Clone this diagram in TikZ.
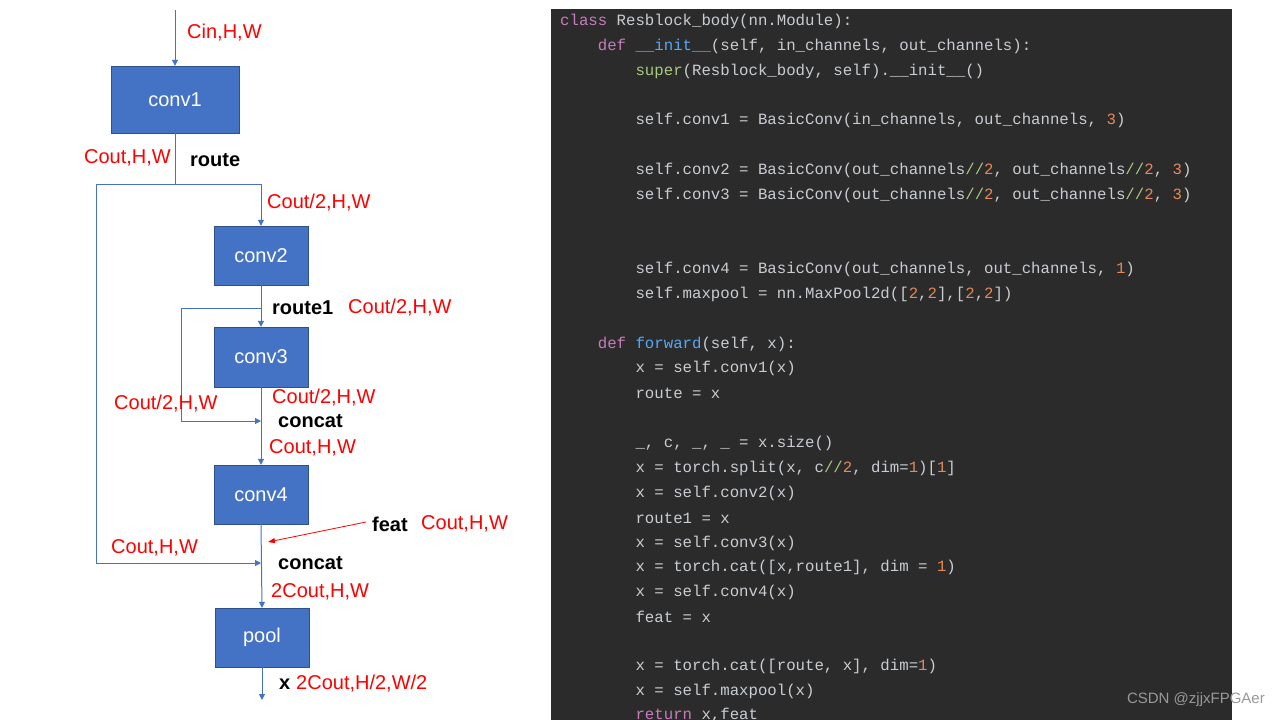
\documentclass[tikz,border=0pt]{standalone}
\usepackage{fontspec}
\setmainfont{Liberation Sans}
\setmonofont{Liberation Mono}
\usetikzlibrary{arrows.meta}
\definecolor{bx}{HTML}{4472C4}
\definecolor{codebg}{HTML}{2B2B2B}
\definecolor{ct}{HTML}{C9CDD2}
\definecolor{kw}{HTML}{C77DBB}
\definecolor{fn}{HTML}{56A8F5}
\definecolor{nm}{HTML}{E5895A}
\definecolor{gr}{HTML}{A9C97F}
\begin{document}
\begin{tikzpicture}[x=1pt,y=-1pt,
  box/.style={draw=bx!70!black,fill=bx,text=white,font=\fontsize{20}{20}\selectfont,inner sep=0pt},
  ln/.style={draw=bx,line width=1pt},
  arr/.style={ln,-{Triangle[length=6pt,width=6pt]}},
  rl/.style={text=red,font=\fontsize{20}{20}\selectfont,inner sep=0pt},
  bl/.style={text=black,font=\bfseries\fontsize{20}{20}\selectfont,inner sep=0pt},
  cl/.style={anchor=west,text=ct,font=\ttfamily\fontsize{15.7}{15.7}\selectfont,inner sep=0pt}]
\useasboundingbox (0,0) rectangle (1280,720);
\fill[white] (0,0) rectangle (1280,720);
% boxes
\node[box,minimum width=128pt,minimum height=67pt] (c1) at (175,99.5) {conv1};
\node[box,minimum width=94pt,minimum height=59pt] (c2) at (261,255.5) {conv2};
\node[box,minimum width=94pt,minimum height=60pt] (c3) at (261,357) {conv3};
\node[box,minimum width=94pt,minimum height=59pt] (c4) at (261,494.5) {conv4};
\node[box,minimum width=94pt,minimum height=59pt] (p) at (262,637.5) {pool};
\coordinate (in) at (175,10);
\coordinate (s1) at (175,184);
\coordinate (s1l) at (96,184);
\coordinate (s1r) at (261,184);
\coordinate (s2) at (261,308);
\coordinate (s2l) at (181,308);
\coordinate (j1) at (261,421);
\coordinate (j1l) at (181,421);
\coordinate (j2) at (261,563);
\coordinate (j2l) at (96,563);
\coordinate (out) at (262,700);
\coordinate (fs) at (366,522);
\coordinate (fe) at (268,542);
\draw[arr] (in) -- (c1.north);
\draw[ln] (c1.south) -- (s1);
\draw[ln] (s1l) -- (s1r);
\draw[arr] (s1r) -- (c2.north);
\draw[arr] (s1l) -- (j2l) -- (j2);
\draw[arr] (c2.south) -- (c3.north);
\draw[arr] (s2) -- (s2l) -- (j1l) -- (j1);
\draw[arr] (c3.south) -- (c4.north);
\draw[arr] (c4.south) -- (p.north);
\draw[arr] (p.south) -- (out);
\draw[red,line width=0.8pt,-{Triangle[length=7pt,width=5pt]}] (fs) -- (fe);
% labels
\node[rl,anchor=west] at (187,33) {Cin,H,W};
\node[rl,anchor=east] at (171,158) {Cout,H,W};
\node[bl,anchor=west] at (190,160) {route};
\node[rl,anchor=west] at (267,203) {Cout/2,H,W};
\node[bl,anchor=west] at (272,308) {route1};
\node[rl,anchor=west] at (348,308) {Cout/2,H,W};
\node[rl,anchor=west] at (114,404) {Cout/2,H,W};
\node[rl,anchor=west] at (272,398) {Cout/2,H,W};
\node[bl,anchor=west] at (278,421) {concat};
\node[rl,anchor=west] at (269,448) {Cout,H,W};
\node[bl,anchor=west] at (372,524) {feat};
\node[rl,anchor=west] at (421,524) {Cout,H,W};
\node[rl,anchor=west] at (111,548) {Cout,H,W};
\node[bl,anchor=west] at (278,563) {concat};
\node[rl,anchor=west] at (271,592) {2Cout,H,W};
\node[bl,anchor=west] at (279,684) {x};
\node[rl,anchor=west] at (296,684) {2Cout,H/2,W/2};
% code
\fill[codebg] (551,9) rectangle (1232,720);
\begin{scope}
\clip (551,9) rectangle (1232,720);
\node[cl] at (560,21) {\textcolor{kw}{class} Resblock\_body(nn.Module):};
\node[cl] at (560,46) {\ \ \ \ \textcolor{kw}{def} \textcolor{fn}{\_\_init\_\_}(self, in\_channels, out\_channels):};
\node[cl] at (560,71) {\ \ \ \ \ \ \ \ \textcolor{gr}{super}(Resblock\_body, self).\_\_init\_\_()};
\node[cl] at (560,120) {\ \ \ \ \ \ \ \ self.conv1 = BasicConv(in\_channels, out\_channels, \textcolor{nm}{3})};
\node[cl] at (560,170) {\ \ \ \ \ \ \ \ self.conv2 = BasicConv(out\_channels\textcolor{gr}{//}\textcolor{nm}{2}, out\_channels\textcolor{gr}{//}\textcolor{nm}{2}, \textcolor{nm}{3})};
\node[cl] at (560,195) {\ \ \ \ \ \ \ \ self.conv3 = BasicConv(out\_channels\textcolor{gr}{//}\textcolor{nm}{2}, out\_channels\textcolor{gr}{//}\textcolor{nm}{2}, \textcolor{nm}{3})};
\node[cl] at (560,269) {\ \ \ \ \ \ \ \ self.conv4 = BasicConv(out\_channels, out\_channels, \textcolor{nm}{1})};
\node[cl] at (560,294) {\ \ \ \ \ \ \ \ self.maxpool = nn.MaxPool2d([\textcolor{nm}{2},\textcolor{nm}{2}],[\textcolor{nm}{2},\textcolor{nm}{2}])};
\node[cl] at (560,344) {\ \ \ \ \textcolor{kw}{def} \textcolor{fn}{forward}(self, x):};
\node[cl] at (560,368) {\ \ \ \ \ \ \ \ x = self.conv1(x)};
\node[cl] at (560,393) {\ \ \ \ \ \ \ \ route = x};
\node[cl] at (560,443) {\ \ \ \ \ \ \ \ \_, c, \_, \_ = x.size()};
\node[cl] at (560,468) {\ \ \ \ \ \ \ \ x = torch.split(x, c\textcolor{gr}{//}\textcolor{nm}{2}, dim=\textcolor{nm}{1})[\textcolor{nm}{1}]};
\node[cl] at (560,493) {\ \ \ \ \ \ \ \ x = self.conv2(x)};
\node[cl] at (560,518) {\ \ \ \ \ \ \ \ route1 = x};
\node[cl] at (560,543) {\ \ \ \ \ \ \ \ x = self.conv3(x)};
\node[cl] at (560,567) {\ \ \ \ \ \ \ \ x = torch.cat([x,route1], dim = \textcolor{nm}{1})};
\node[cl] at (560,592) {\ \ \ \ \ \ \ \ x = self.conv4(x)};
\node[cl] at (560,617) {\ \ \ \ \ \ \ \ feat = x};
\node[cl] at (560,666) {\ \ \ \ \ \ \ \ x = torch.cat([route, x], dim=\textcolor{nm}{1})};
\node[cl] at (560,691) {\ \ \ \ \ \ \ \ x = self.maxpool(x)};
\node[cl] at (560,715) {\ \ \ \ \ \ \ \ \textcolor{kw}{return} x,feat};
\end{scope}
\node[anchor=east,text=white!60!black,font=\fontsize{15}{15}\selectfont,inner sep=0pt] at (1265,700) {CSDN @zjjxFPGAer};
\end{tikzpicture}
\end{document}
